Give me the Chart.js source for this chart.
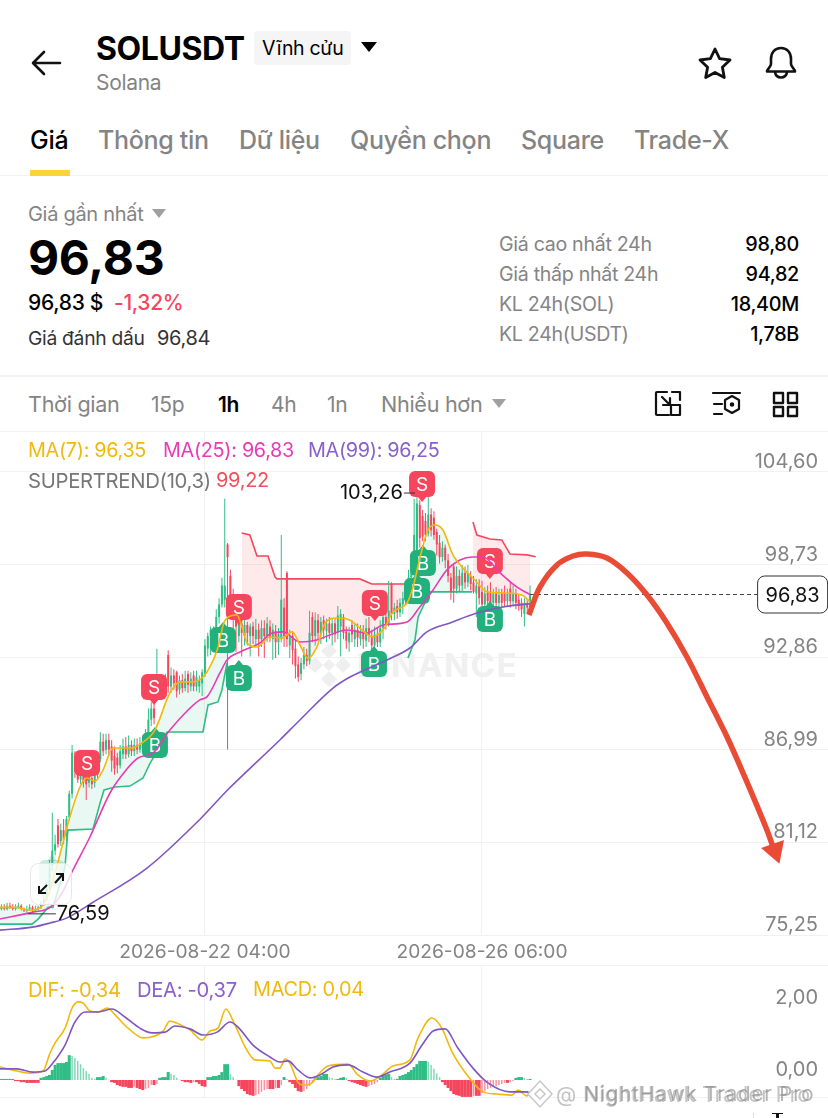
<!DOCTYPE html>
<html lang="vi">

<head>
    <meta charset="UTF-8">
    <title>SOLUSDT</title>
    <style>
        html, body { margin: 0; padding: 0; background: #fff; }
        body { width: 828px; height: 1118px; position: relative; overflow: hidden; font-family: Inter, sans-serif; color: #000; }
        .t { position: absolute; white-space: nowrap; transform: translateY(-50%); letter-spacing: -0.3px; }
        .g { color: #848484; }
        .r { text-align: right; }
        .rule { position: absolute; left: 0; width: 828px; background: #f2f2f2; }
        canvas { position: absolute; left: 0; }
        svg { position: absolute; overflow: visible; }
    </style>
    <script src="https://cdn.jsdelivr.net/npm/chart.js"></script>
</head>

<body>
    <!-- header -->
    <svg style="left:0;top:0" width="828" height="430" fill="none" stroke="#111" stroke-linecap="round" stroke-linejoin="round">
        <path d="M34 63H60M44 52L33 63L44 74" stroke-width="2.6"/>
        <path d="M361 42H377L369 52Z" fill="#000" stroke="none"/>
        <path d="M715 49l4.6 9.6 10.4 1.4-7.6 7.2 1.9 10.4-9.3-5.1-9.3 5.1 1.9-10.4-7.6-7.2 10.4-1.4z" stroke-width="2.8"/>
        <path d="M781 48c-6.5 0-10 5-10 11v5c0 3-4 5-4 7.500h28c0-2.500-4-4.500-4-7.500v-5c0-6-3.500-11-10-11zM775 72c.5 3.500 3 5.500 6 5.500s5.500-2 6-5.500" stroke-width="2.6"/>
        <path d="M152 209H166L159 218Z" fill="#a0a0a0" stroke="none"/>
        <path d="M492 399H506L499 408Z" fill="#a0a0a0" stroke="none"/>
        <path d="M667 392H657a1 1 0 0 0-1 1V414a1 1 0 0 0 1 1H669M672 392H680V400M673 405H680V415H671V405Z M662 397L670 405M670 398V405H663" stroke-width="2.2"/>
        <path d="M713 393H740M714 404H722M714 414H722M732 396L739 400V409L732 413L725 409V400Z" stroke-width="2.2"/>
        <circle cx="732" cy="404.500" r="1.500" fill="#111" stroke-width="1.500"/>
        <path d="M774 393H783V403H774ZM788 393H797V403H788ZM774 407H783V416H774ZM788 407H797V416H788Z" stroke-width="2.4"/>
    </svg>

    <div class="t" style="left:96px;top:48px;font-size:32px;font-weight:700;letter-spacing:-0.4px">SOLUSDT</div>
    <div style="position:absolute;left:254px;top:31px;width:97px;height:34px;background:#f5f5f5;border-radius:4px"></div>
    <div class="t" style="left:262px;top:48px;font-size:19.500px">Vĩnh cửu</div>
    <div class="t g" style="left:96px;top:82px;font-size:21px">Solana</div>

    <div class="t" style="left:30px;top:140px;font-size:25px;font-weight:500">Giá</div>
    <div class="t g" style="left:98px;top:140px;font-size:25px;font-weight:500">Thông tin</div>
    <div class="t g" style="left:239px;top:140px;font-size:25px;font-weight:500">Dữ liệu</div>
    <div class="t g" style="left:350px;top:140px;font-size:25px;font-weight:500">Quyền chọn</div>
    <div class="t g" style="left:521px;top:140px;font-size:25px;font-weight:500">Square</div>
    <div class="t g" style="left:634px;top:140px;font-size:25px;font-weight:500">Trade-X</div>
    <div class="rule" style="top:175px;height:1px"></div>
    <div style="position:absolute;left:30px;top:170px;width:40px;height:6px;background:#fcd535"></div>

    <div class="t g" style="left:28px;top:214px;font-size:20px">Giá gần nhất</div>
    <div class="t" style="left:28px;top:257px;font-size:48px;font-weight:700">96,83</div>
    <div class="t" style="left:28px;top:302px;font-size:21px;font-weight:500">96,83 $</div>
    <div class="t" style="left:114px;top:302px;font-size:21px;font-weight:500;color:#f6465d">-1,32%</div>
    <div class="t" style="left:28px;top:338px;font-size:19.300px;color:#333">Giá đánh dấu</div>
    <div class="t" style="left:157px;top:338px;font-size:20px;color:#333">96,84</div>

    <div class="t g" style="left:499px;top:244px;font-size:19.600px">Giá cao nhất 24h</div>
    <div class="t g" style="left:499px;top:274px;font-size:19.600px">Giá thấp nhất 24h</div>
    <div class="t g" style="left:499px;top:304px;font-size:19.600px">KL 24h(SOL)</div>
    <div class="t g" style="left:499px;top:334px;font-size:19.600px">KL 24h(USDT)</div>
    <div class="t" style="right:29px;top:244px;font-size:19.800px;font-weight:500">98,80</div>
    <div class="t" style="right:29px;top:274px;font-size:19.800px;font-weight:500">94,82</div>
    <div class="t" style="right:29px;top:304px;font-size:19.800px;font-weight:500">18,40M</div>
    <div class="t" style="right:29px;top:334px;font-size:19.800px;font-weight:500">1,78B</div>

    <div class="rule" style="top:375px;height:2px"></div>
    <div class="t g" style="left:28px;top:404px;font-size:21.600px">Thời gian</div>
    <div class="t g" style="left:151px;top:404px;font-size:21px">15p</div>
    <div class="t" style="left:218px;top:404px;font-size:21px;font-weight:600">1h</div>
    <div class="t g" style="left:271px;top:404px;font-size:21px">4h</div>
    <div class="t g" style="left:327px;top:404px;font-size:21px">1n</div>
    <div class="t g" style="left:381px;top:404px;font-size:21.600px">Nhiều hơn</div>
    <div class="rule" style="top:431px;height:1px"></div>

    <!-- watermark sits under the transparent canvas -->
    <svg style="left:308px;top:643px" width="42" height="42" fill="#efefef">
        <path d="M21 0L29 8L21 16L13 8ZM7 14L15 22L7 30L-1 22ZM35 14L43 22L35 30L27 22ZM21 16L27 22L21 28L15 22ZM21 28L29 36L21 44L13 36Z"/>
    </svg>
    <div class="t" style="left:357px;top:665px;font-size:33px;font-weight:700;color:#f0f0f0;letter-spacing:1.500px">BINANCE</div>

    <canvas id="priceChart" width="828" height="533" style="top:432px"></canvas>
    <canvas id="macdChart" width="828" height="153" style="top:965px"></canvas>
    <div class="rule" style="top:965px;height:1px"></div>

    <!-- legends -->
    <div class="t" style="left:28px;top:450px;font-size:19.800px;color:#f0b90b">MA(7): 96,35</div>
    <div class="t" style="left:163px;top:450px;font-size:19.800px;color:#e83bb5">MA(25): 96,83</div>
    <div class="t" style="left:308px;top:450px;font-size:19.800px;color:#8a60cb">MA(99): 96,25</div>
    <div class="t g" style="left:28px;top:480px;font-size:20.300px;color:#777">SUPERTREND(10,3)</div>
    <div class="t" style="left:216px;top:480px;font-size:20px;color:#f0505f">99,22</div>
    <div class="t" style="left:28px;top:989px;font-size:20.200px;color:#f0b90b">DIF: -0,34</div>
    <div class="t" style="left:137px;top:989px;font-size:20.200px;color:#8a60cb">DEA: -0,37</div>
    <div class="t" style="left:253px;top:989px;font-size:19.900px;color:#f0b90b">MACD: 0,04</div>

    <!-- expand button on the chart -->
    <svg style="left:30px;top:863px" width="42" height="42" fill="none">
        <rect x="0.500" y="0.500" width="41" height="41" rx="8" fill="rgba(255,255,255,0.78)" stroke="#e6e6e6"/>
        <path d="M25 20L33 11M26 11H33V18M17 22L9 30M9 23V30H16" stroke="#111" stroke-width="2"/>
    </svg>

    <!-- repost watermark, bottom right -->
    <svg style="left:527px;top:1080px" width="26" height="28" fill="#fff" stroke="#c8c8c8" stroke-width="1.500">
        <path d="M13 1L25 14L13 27L1 14ZM13 9L18 14L13 19L8 14Z"/>
    </svg>
    <div class="t" style="left:556px;top:1094px;font-size:21px;color:#c4c4c4;letter-spacing:0.400px">@ NightHawk Trader Pro</div>
    <div class="t" style="left:584px;top:1093px;font-size:20.500px;color:rgba(130,130,130,0.6);letter-spacing:0.800px">NightHawk Trader Pro</div>
    <div style="position:absolute;left:753px;top:1113px;width:1px;height:5px;background:#ddd"></div>
    <svg style="left:772px;top:1113px" width="12" height="5"><path d="M0 0H11V1H7V5H4V1H0Z" fill="#111"/></svg>

    <script>
        // candles, one per hour, index 0 = 2026-08-19 04:00
        const opens = [
            76.9,77.0,76.9,77.1,77.0,76.9,77.0,77.1,76.9,76.8,
            76.9,77.0,76.8,76.9,77.0,77.2,77.5,78.2,79.6,80.6,
            82.2,81.2,81.9,81.5,82.7,84.2,86.6,85.8,85.1,85.6,
            85.3,84.9,85.2,84.9,85.4,86.4,87.5,87.0,87.6,87.2,
            86.6,86.5,86.0,86.7,87.2,86.7,87.3,86.9,87.3,87.0,
            87.5,87.2,88.0,88.9,89.6,90.3,90.5,91.2,90.8,93.0,
            91.0,91.7,91.9,90.8,91.4,90.9,91.8,91.0,91.7,91.0,
            91.0,91.2,91.8,93.4,94.2,94.6,94.2,95.4,96.2,96.5,
            100.0,98.0,96.8,95.8,94.2,95.0,94.2,94.9,94.2,94.8,
            94.0,94.6,94.0,94.7,94.2,94.8,94.0,94.5,93.8,94.0,
            96.0,98.2,93.6,94.2,93.4,92.4,91.8,92.4,93.0,92.6,
            95.4,94.2,95.2,94.4,95.2,94.5,95.0,94.4,95.0,94.4,
            94.8,95.4,94.5,93.8,94.9,94.0,94.6,94.0,94.5,93.9,
            94.7,94.2,93.6,94.3,93.8,94.7,95.4,95.0,97.5,95.6,
            96.1,95.7,96.2,96.6,97.0,97.9,98.6,99.4,102.5,101.8,
            101.5,100.7,101.9,101.7,100.8,100.1,99.2,99.8,99.0,97.9,
            98.6,97.2,98.0,97.4,98.2,97.6,98.0,97.6,96.9,97.4,
            97.0,96.2,97.0,97.0,96.3,96.9,96.3,96.9,96.9,96.4,
            97.2,96.4,96.9,96.5,96.3,95.6,96.3,96.0
        ];
        const closes = [
            77.0,76.9,77.1,77.0,76.9,77.0,77.1,76.9,76.8,76.9,
            77.0,76.8,76.9,77.0,77.2,77.5,78.2,79.6,80.6,81.0,
            81.0,81.9,81.3,82.6,84.2,86.8,85.6,85.1,85.7,84.9,
            84.8,85.2,84.8,85.4,86.4,87.5,86.9,87.6,87.0,86.3,
            85.8,86.0,86.9,87.2,86.7,87.3,86.9,87.3,87.0,87.4,
            87.1,88.0,88.9,89.6,89.0,91.2,91.0,90.6,91.4,91.0,
            91.7,91.2,90.7,91.4,90.9,91.5,91.1,91.5,91.0,91.6,
            91.4,91.9,93.6,94.2,94.6,94.0,95.4,96.2,97.4,97.4,
            99.2,96.4,95.6,94.8,95.0,94.4,94.9,94.4,94.8,94.2,
            94.6,94.0,94.7,94.2,95.0,94.1,94.6,93.8,94.3,96.5,
            94.2,94.0,94.2,93.3,92.3,91.6,92.5,93.0,92.6,94.4,
            94.2,95.2,94.4,95.1,94.6,95.0,94.4,95.0,94.3,95.5,
            95.6,94.4,93.9,94.4,94.3,94.6,94.1,94.5,94.0,94.7,
            94.2,93.6,94.3,93.8,94.7,95.4,94.9,95.8,95.6,96.0,
            95.7,96.3,96.6,97.0,97.9,98.7,100.6,102.6,100.4,100.5,
            100.6,101.9,100.9,100.6,100.0,99.2,99.8,99.0,98.0,97.0,
            97.2,98.0,97.4,98.2,97.6,98.2,97.5,97.0,97.4,96.6,
            96.2,96.9,96.4,96.3,96.9,96.3,96.8,96.3,96.4,96.9,
            96.4,96.9,96.3,96.1,95.9,96.3,96.0,96.83
        ];
        const highs = [
            77.2,77.2,77.3,77.3,77.2,77.2,77.3,77.2,77.0,77.1,
            77.2,77.1,77.1,77.1,77.4,77.8,78.6,80.0,83.0,81.6,
            82.6,82.3,82.6,82.8,84.4,87.3,86.9,86.2,86.0,85.9,
            85.7,85.5,85.5,85.8,86.7,88.1,88.0,88.0,88.0,87.6,
            87.2,86.8,87.3,87.7,87.8,87.9,87.6,87.7,87.7,87.8,
            87.9,88.3,89.6,90.0,90.0,93.4,91.6,91.7,91.8,93.3,
            92.2,92.1,92.0,91.7,91.8,92.0,92.0,91.9,92.0,92.0,
            91.7,92.1,94.0,94.4,94.8,94.8,95.9,96.6,97.9,102.9,
            100.1,98.4,97.2,96.0,95.4,95.3,95.2,95.1,95.0,95.1,
            95.3,95.0,95.2,95.2,95.4,95.2,95.0,94.9,94.7,100.6,
            96.6,98.3,94.6,94.5,93.9,92.9,92.8,93.5,93.4,95.8,
            95.7,95.7,95.6,95.4,95.5,95.3,95.4,95.3,95.3,96.1,
            95.9,95.6,94.8,94.8,95.2,95.0,95.0,94.9,94.9,95.3,
            95.4,94.6,94.8,94.7,95.2,95.8,95.8,97.7,97.6,96.3,
            96.5,96.6,97.0,97.4,98.4,99.2,102.9,103.26,102.8,102.2,
            102.0,103.1,102.3,102.1,101.0,100.6,100.2,100.0,99.4,98.2,
            98.8,98.6,98.4,98.7,98.6,98.7,98.3,98.0,97.8,97.8,
            97.7,97.3,97.4,97.6,97.2,97.3,97.2,97.2,97.4,97.2,
            97.6,97.4,97.2,96.8,96.6,96.6,96.5,97.4
        ];
        const lows = [
            76.8,76.8,76.8,76.9,76.8,76.8,76.9,76.8,76.7,76.59,
            76.8,76.7,76.7,76.8,76.9,77.1,77.4,78.1,79.3,80.3,
            80.8,80.9,81.0,81.2,82.5,83.9,85.2,84.9,84.8,84.6,
            83.8,84.6,84.5,84.6,85.2,86.2,86.6,86.7,86.6,85.6,
            85.4,85.5,85.8,86.4,86.4,86.5,86.6,86.6,86.7,86.8,
            86.8,87.0,87.8,88.5,88.6,90.1,90.2,90.2,90.5,90.6,
            90.6,90.8,90.3,90.5,90.6,90.7,90.6,90.7,90.7,90.7,
            90.6,90.4,91.6,92.9,93.0,93.6,94.0,95.0,96.0,96.0,
            87.0,95.5,94.0,93.2,93.8,92.9,93.6,93.6,92.9,93.7,
            93.6,92.9,93.5,92.8,93.8,93.8,92.7,92.8,93.0,93.8,
            93.5,93.5,92.8,92.4,91.5,91.3,91.4,92.1,92.3,92.4,
            93.8,93.6,94.0,93.7,94.0,93.8,94.0,93.6,93.8,94.0,
            92.9,94.0,93.4,93.2,93.8,93.5,93.5,93.6,93.4,93.5,
            93.8,92.6,93.4,93.5,93.5,94.0,94.6,94.8,95.2,95.2,
            95.3,95.4,95.6,96.2,96.8,97.6,98.2,99.2,99.8,100.2,
            100.2,100.5,100.5,100.3,99.3,98.8,98.9,98.5,97.6,96.5,
            96.3,96.9,97.0,97.0,97.2,97.3,97.1,96.9,95.4,96.2,
            95.9,95.9,96.0,96.0,96.0,95.9,96.0,96.0,96.1,96.1,
            96.0,96.1,95.9,95.8,95.4,94.8,95.6,95.9
        ];

        // moving averages, read at candle positions
        const ma7Idx = [-0.5,5,10,14.7,17.2,20,23.6,27.8,30.3,33.1,35.9,39.5,46.2,49.7,54.3,59.6,63.2,66.7,71.3,76.3,79.1,83.3,85.1,86.9,90.4,95,99.3,102.8,105.6,108.4,111.6,114.5,118.7,123.3,127.6,131.4,135.7,138.5,143.5,145.6,148.1,150.9,153.4,156.2,159.7,162.9,166.8,171.8,177.4,184.1,187];
        const ma7Val = [77.0,77.0,76.83,77.15,78.1,79.87,82.35,84.63,85.2,85.0,85.7,87.1,87.1,87.42,88.24,90.59,91.29,91.29,91.6,93.3,95.2,95.53,94.77,93.76,93.5,94.14,94.08,94.46,93.63,92.8,93.5,95.03,95.34,95.2,94.58,94.14,94.77,95.72,96.3,97.3,99.21,100.92,101.24,100.92,99.34,98.58,97.88,97.0,96.93,96.8,96.35];
        const ma25Idx = [-0.5,11.2,17.2,21.4,25.3,31.3,38.4,42.7,48.3,53.6,59.6,70.2,72.7,77.3,79.8,84.4,91.5,95,99.6,105.6,111.6,116.2,122.2,129.3,135,143.5,148,152.7,157.6,162.2,166.8,170.4,176.4,182.4,187];
        const ma25Val = [76.26,76.7,77.0,77.9,79.37,81.46,84.25,85.39,86.47,86.78,88.24,90.15,90.34,91.86,92.68,93.19,93.76,94.33,94.46,93.82,93.95,94.27,94.58,94.39,94.9,95.09,96.04,97.12,98.39,99.02,99.21,99.21,98.2,97.3,96.83];
        const ma99Idx = [-0.5,11,17,23,32,51.5,70,80,98.5,105.6,117.3,123.3,136.4,144.5,150.5,158.7,168.2,177.4,187];
        const ma99Val = [75.56,75.75,76.0,76.32,77.28,79.49,82.54,84.44,87.61,88.88,90.9,91.6,92.68,93.44,94.46,95.03,95.66,96.04,96.25];

        // supertrend legs
        const upIdx1 = [-0.5,10.8,13,16.5,18.2,22.5,23.5,32.4,34.9,36.3,40.2,45.5,50.1,52.6,55,58.6,71.3,73.1,76.6,78,79.8];
        const upVal1 = [75.94,75.94,76.26,77.0,77.0,79.56,81.9,81.97,83.62,84.44,84.63,84.69,85.2,86.15,86.85,88.12,88.12,89.83,90.02,90.78,92.5];
        const downIdx1 = [85,87.9,90.4,94.3,96.8,97.5,126.8,131,143.5];
        const downVal1 = [100.73,100.61,99.27,99.27,97.94,97.82,97.82,97.5,97.5];
        const upIdx2 = [143.8,146.3,147.4,151.6,166.5];
        const upVal2 = [92.8,93.95,95.41,97.0,97.0];
        const downIdx2 = [166.8,168.2,172.8,177,179.9,185.9,189];
        const downVal2 = [101.43,100.6,100.35,100.29,99.4,99.34,99.22];

        // buy / sell flags
        const sellIdx = [30.3,54,84,132.1,148.8,172.8];
        const sellVal = [86.15,90.97,96.04,96.29,103.84,98.96];
        const buyIdx = [17.9,54.3,78.4,84,131.8,147,149.1,172.8];
        const buyVal = [79.18,87.29,93.95,91.54,92.43,97.06,98.83,95.28];

        // hand drawn arrow over the chart
        const arrowIdx = [186.6,190.5,196.5,202.2,207.1,214.2,221.3,228.4,235.4,242.5,249.6,256.7,263.7,270.8,272.8];
        const arrowVal = [95.53,97.3,98.7,99.27,99.4,99.15,98.2,96.8,95.03,92.87,90.34,87.8,84.95,81.9,80.9];
        const arrowHeadIdx = [273.6];
        const arrowHeadVal = [80.6];

        // axis
        const priceTicks = [104.60,98.73,92.86,86.99,81.12,75.25];
        const macdTicks = [2.00,0.00];
        const gridIdx = [72,170];
        const gridLabels = ['2026-08-22 04:00','2026-08-26 06:00'];
        const lastPrice = 96.83;
        const lastPriceEnd = 267.5;
        const highIdx = 147, highVal = 103.26;
        const lowIdx = 9, lowVal = 76.59;

        // macd
        const difIdx = [-0.5,5.5,10,14.7,17.2,19,22.5,25,27,28.9,31.3,34.2,37.4,40.2,44.8,50.1,57.2,59.6,62.1,66.7,71,73.8,76.6,79.4,82.6,86.2,89.7,95,96.8,98.5,100.3,102,104.9,106.7,109.9,112,115.5,122.6,126.1,130.4,134.6,138.5,144.5,147.4,152.3,155.8,159.4,164.7,170.4,175.3,180.6,182.7,185.9,187];
        const difVal = [0.36,0.25,0.19,0.25,0.75,1.03,1.44,2.0,2.17,2.14,1.92,1.89,2.0,1.81,1.44,1.17,1.36,1.64,1.58,1.39,1.11,1.36,1.44,1.97,1.53,0.92,0.56,0.53,0.33,0.33,0.58,0.47,-0.06,-0.14,-0.08,0.14,0.39,0.44,0.14,-0.03,0.14,0.39,0.56,1.17,1.72,1.44,0.78,0.14,-0.33,-0.39,-0.42,-0.28,-0.44,-0.34];
        const deaIdx = [-0.5,5.5,11.2,15.4,18.2,22.5,26,29.6,34.2,39.1,43.7,49,53.3,57.9,61.4,66.7,71.3,76.3,80.9,83.7,89,95,98.5,101.4,104.9,109.2,112.7,117.3,122.6,127.9,132.8,137.4,144.5,148.8,152.7,157,161.2,166.8,172.1,179.9,185.9,187];
        const deaVal = [0.31,0.31,0.22,0.25,0.47,0.97,1.61,1.89,1.89,1.97,1.75,1.44,1.31,1.33,1.5,1.42,1.25,1.33,1.61,1.47,0.97,0.64,0.5,0.53,0.28,0.06,0.14,0.36,0.42,0.22,0.08,0.22,0.47,0.97,1.36,1.42,0.92,0.33,-0.08,-0.33,-0.33,-0.37];
        const histVal = [
            0.03,0.03,0.03,0.03,0.03,-0.03,-0.03,-0.06,-0.06,-0.08,
            -0.08,-0.08,-0.08,-0.08,0.06,0.08,0.11,0.14,0.28,0.42,
            0.47,0.47,0.47,0.5,0.69,0.67,0.61,0.53,0.44,0.33,
            0.25,0.17,0.06,0.03,0.08,0.08,0.11,0.06,0.01,-0.06,
            -0.08,-0.14,-0.17,-0.19,-0.19,-0.22,-0.22,-0.19,-0.22,-0.25,
            -0.28,-0.25,-0.22,-0.14,-0.14,-0.11,0.06,0.08,0.08,0.22,
            0.17,0.14,0.06,0.01,-0.03,-0.06,-0.06,-0.08,-0.06,-0.06,
            -0.11,-0.17,-0.19,0.08,0.08,0.11,0.11,0.14,0.22,0.44,
            0.44,0.17,0.08,0.01,-0.17,-0.25,-0.31,-0.39,-0.42,-0.44,
            -0.42,-0.39,-0.33,-0.28,-0.25,-0.25,-0.25,-0.22,-0.22,-0.14,
            0.08,0.03,-0.06,-0.11,-0.22,-0.31,-0.33,-0.31,-0.25,-0.17,
            -0.08,0.06,0.08,0.11,0.17,0.17,0.08,0.06,0.03,0.03,
            0.06,0.08,0.06,-0.03,-0.06,-0.08,-0.11,-0.14,-0.17,-0.19,
            -0.17,-0.14,-0.11,-0.06,0.06,0.11,0.14,0.17,0.08,0.03,
            0.03,0.11,0.14,0.17,0.22,0.28,0.36,0.44,0.53,0.53,
            0.53,0.5,0.42,0.31,0.19,0.08,-0.06,-0.14,-0.22,-0.31,
            -0.39,-0.42,-0.44,-0.47,-0.47,-0.47,-0.47,-0.44,-0.44,-0.44,
            -0.36,-0.31,-0.25,-0.22,-0.19,-0.17,-0.14,-0.11,-0.08,-0.08,
            -0.06,-0.03,0.06,0.08,0.08,0.06,0.03,0.03
        ];

        const GREEN = '#2ebd85', RED = '#f6465d', YELLOW = '#f0b90b', PINK = '#e83bb5', PURPLE = '#7e57c2';
        const GRID = '#f1f1f1', TICK = '#848484', FONT = 'Inter';
        const X_MIN = -0.5, X_MAX = 292.4;

        function pairs(xs, ys) {
            return xs.map((x, i) => ({ x: x, y: ys[i] }));
        }

        function fmt(v) {
            return v.toFixed(2).replace('.', ',');
        }

        function maLine(xs, ys, color) {
            return { type: 'line', data: pairs(xs, ys), borderColor: color, borderWidth: 1.6, pointRadius: 0, cubicInterpolationMode: 'monotone', fill: false, order: 3 };
        }

        function trendLine(xs, ys, color, area) {
            // filled against the MA(7) line, dataset 0
            return { type: 'line', data: pairs(xs, ys), borderColor: color, borderWidth: 1.6, pointRadius: 0, tension: 0, fill: { target: 0, above: area, below: area }, order: 10 };
        }

        function xAxis(showLabels) {
            return {
                type: 'linear', min: X_MIN, max: X_MAX, offset: false,
                grid: { color: GRID, drawTicks: false, offset: false },
                border: { display: !showLabels, color: GRID },
                afterBuildTicks: scale => { scale.ticks = gridIdx.map(v => ({ value: v })); },
                afterFit: scale => {
                    scale.height = showLabels ? 30 : 21;
                    scale.paddingLeft = scale.paddingRight = 0;
                },
                ticks: {
                    display: showLabels, autoSkip: false, maxRotation: 0, padding: 6, color: TICK,
                    font: { family: FONT, size: 19.2 },
                    callback: v => gridLabels[gridIdx.indexOf(v)]
                }
            };
        }

        function yAxis(min, max, values, showGrid) {
            return {
                position: 'right', min: min, max: max,
                grid: { display: showGrid, color: GRID, drawTicks: false },
                border: { display: false },
                afterBuildTicks: scale => { scale.ticks = values.map(v => ({ value: v })); },
                afterFit: scale => {
                    scale.width = 0;
                    scale.paddingTop = scale.paddingBottom = 0;
                },
                ticks: {
                    // the zero width axis sits on the right edge, so the labels go back inside it
                    mirror: true, align: 'end', padding: -10, color: TICK, autoSkip: false,
                    font: { family: FONT, size: 20 },
                    callback: v => fmt(v)
                }
            };
        }

        function drawFlag(ctx, x, y, letter, color) {
            ctx.save();
            ctx.fillStyle = color;
            ctx.beginPath();
            ctx.roundRect(x - 13, y - 13, 26, 26, 6);
            ctx.fill();
            ctx.beginPath();
            if (letter === 'S') {
                ctx.moveTo(x - 5, y + 12); ctx.lineTo(x, y + 18); ctx.lineTo(x + 5, y + 12);
            } else {
                ctx.moveTo(x - 5, y - 12); ctx.lineTo(x, y - 18); ctx.lineTo(x + 5, y - 12);
            }
            ctx.fill();
            ctx.fillStyle = '#fff';
            ctx.font = '19px ' + FONT;
            ctx.textAlign = 'center';
            ctx.textBaseline = 'middle';
            ctx.fillText(letter, x, y + 1);
            ctx.restore();
        }

        // flags go above the candles and under the average lines
        const flagPlugin = {
            id: 'flags',
            afterDatasetDraw(chart, args) {
                if (args.index !== 8) return;
                const sx = chart.scales.x, sy = chart.scales.y, ctx = chart.ctx;
                buyIdx.forEach((v, i) => {
                    ctx.globalAlpha = i === 0 ? 0.25 : 1;
                    drawFlag(ctx, sx.getPixelForValue(v), sy.getPixelForValue(buyVal[i]), 'B', '#22b07d');
                    ctx.globalAlpha = 1;
                });
                sellIdx.forEach((v, i) => {
                    drawFlag(ctx, sx.getPixelForValue(v), sy.getPixelForValue(sellVal[i]), 'S', '#f6465d');
                });
            },
            afterDatasetsDraw(chart) {
                const sx = chart.scales.x, sy = chart.scales.y, ctx = chart.ctx;
                ctx.save();
                ctx.font = '20px ' + FONT;
                ctx.fillStyle = '#111';
                ctx.strokeStyle = '#333';
                ctx.lineWidth = 1;
                ctx.textBaseline = 'middle';

                // highest and lowest price
                let x = sx.getPixelForValue(highIdx), y = sy.getPixelForValue(highVal);
                ctx.beginPath(); ctx.moveTo(x - 13, y); ctx.lineTo(x - 2, y); ctx.stroke();
                ctx.textAlign = 'right';
                ctx.fillText(fmt(highVal), x - 14, y);
                x = sx.getPixelForValue(lowIdx); y = sy.getPixelForValue(lowVal);
                ctx.beginPath(); ctx.moveTo(x + 1, y); ctx.lineTo(x + 29, y); ctx.stroke();
                ctx.textAlign = 'left';
                ctx.fillText(fmt(lowVal), x + 30, y);

                // last price box
                x = sx.getPixelForValue(lastPriceEnd); y = sy.getPixelForValue(lastPrice);
                ctx.fillStyle = '#fff';
                ctx.beginPath();
                ctx.roundRect(x, y - 18.5, 70, 37, 7);
                ctx.fill();
                ctx.stroke();
                ctx.fillStyle = '#111';
                ctx.textAlign = 'center';
                ctx.fillText(fmt(lastPrice), x + 35, y + 1);
                ctx.restore();
            }
        };

        const wickData = opens.map((o, i) => ({ x: i, y: [lows[i], highs[i]] }));
        const bodyData = opens.map((o, i) => ({ x: i, y: [o, closes[i]] }));
        const candleColors = opens.map((o, i) => closes[i] >= o ? GREEN : RED);

        new Chart(document.getElementById('priceChart'), {
            type: 'bar',
            data: {
                datasets: [
                    maLine(ma7Idx, ma7Val, YELLOW),
                    maLine(ma25Idx, ma25Val, PINK),
                    maLine(ma99Idx, ma99Val, PURPLE),
                    trendLine(upIdx1, upVal1, GREEN, 'rgba(46,189,133,0.10)'),
                    trendLine(downIdx1, downVal1, RED, 'rgba(246,70,93,0.12)'),
                    trendLine(upIdx2, upVal2, GREEN, 'rgba(46,189,133,0.10)'),
                    trendLine(downIdx2, downVal2, RED, 'rgba(246,70,93,0.12)'),
                    { data: wickData, backgroundColor: candleColors, barThickness: 1, grouped: false, inflateAmount: 0, order: 9 },
                    { data: bodyData, backgroundColor: candleColors, barThickness: 2, grouped: false, inflateAmount: 0, order: 8 },
                    { type: 'line', data: [{ x: closes.length - 1, y: lastPrice }, { x: lastPriceEnd, y: lastPrice }], borderColor: '#444', borderWidth: 1, borderDash: [4, 3], pointRadius: 0, order: 2 },
                    { type: 'line', data: pairs(arrowIdx, arrowVal), borderColor: '#e94b35', borderWidth: 5.5, pointRadius: 0, tension: 0.35, borderCapStyle: 'butt', order: 1 },
                    { type: 'scatter', data: pairs(arrowHeadIdx, arrowHeadVal), pointStyle: 'triangle', pointRadius: 14, pointRotation: 161, backgroundColor: '#e94b35', borderWidth: 0, order: 0 }
                ]
            },
            options: {
                responsive: false,
                animation: false,
                layout: { padding: 0, autoPadding: false },
                plugins: { legend: { display: false }, tooltip: { enabled: false } },
                scales: { x: xAxis(true), y: yAxis(75.25, 107.13, priceTicks, true) }
            },
            plugins: [flagPlugin]
        });

        const solid = histVal.map((v, i) => i === 0 || Math.abs(v) >= Math.abs(histVal[i - 1]) || v * histVal[i - 1] < 0);

        new Chart(document.getElementById('macdChart'), {
            type: 'bar',
            data: {
                datasets: [
                    { data: histVal.map((v, i) => solid[i] ? { x: i, y: v } : null).filter(p => p), backgroundColor: c => c.raw && c.raw.y >= 0 ? GREEN : RED, barThickness: 3, grouped: false, inflateAmount: 0, order: 5 },
                    { data: histVal.map((v, i) => solid[i] ? null : { x: i, y: v }).filter(p => p), backgroundColor: c => c.raw && c.raw.y >= 0 ? 'rgba(46,189,133,0.6)' : 'rgba(246,70,93,0.6)', barThickness: 1.5, grouped: false, inflateAmount: 0, order: 5 },
                    { type: 'line', data: pairs(difIdx, difVal), borderColor: YELLOW, borderWidth: 1.6, pointRadius: 0, cubicInterpolationMode: 'monotone', order: 2 },
                    { type: 'line', data: pairs(deaIdx, deaVal), borderColor: PURPLE, borderWidth: 1.6, pointRadius: 0, cubicInterpolationMode: 'monotone', order: 1 }
                ]
            },
            options: {
                responsive: false,
                animation: false,
                layout: { padding: 0, autoPadding: false },
                plugins: { legend: { display: false }, tooltip: { enabled: false } },
                scales: { x: xAxis(false), y: yAxis(-0.472, 3.194, macdTicks, false) }
            }
        });
    </script>
</body>

</html>
